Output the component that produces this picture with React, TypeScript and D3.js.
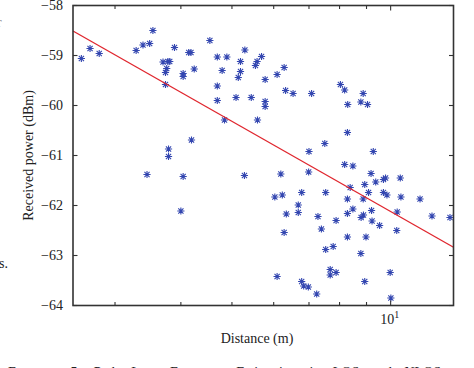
import React, { useEffect, useRef } from 'react';
import * as d3 from 'd3';

// distance (m)
const distance = [
  2.59, 2.69, 2.80, 3.29, 3.39, 3.49, 3.54, 3.70, 3.74, 3.76, 3.78, 3.81, 3.89, 4.04, 4.04,
  4.14, 4.18, 4.24, 3.74, 4.19, 3.79, 3.79, 3.45, 4.04, 4.00, 4.54, 4.69, 4.89, 5.29, 5.19,
  4.79, 5.19, 5.14, 5.58, 5.54, 5.69, 4.69, 4.69, 5.09, 5.44, 5.78, 5.78, 5.78, 6.09, 6.28,
  6.32, 6.53, 7.08, 4.84, 5.59, 7.00, 7.50, 8.03, 8.18, 8.29, 8.87, 8.78, 9.04, 8.28, 9.27,
  8.18, 8.48, 5.28, 6.19, 6.99, 9.18, 9.37, 9.69, 9.78, 10.43, 8.38, 8.93, 7.53, 9.08, 9.69,
  9.84, 8.28, 8.87, 10.46, 11.37, 9.20, 8.48, 8.28, 8.88, 8.79, 10.29, 11.98, 12.96, 7.88, 9.22,
  9.53, 10.27, 7.39, 8.28, 8.98, 7.78, 7.53, 8.78, 7.68, 7.68, 7.88, 9.98, 8.93, 10.01, 6.03,
  6.23, 6.78, 6.68, 6.68, 6.34, 7.28, 6.28, 6.09, 6.78, 6.84, 6.98, 7.24,
];

// received power (dBm)
const power = [
  -59.06, -58.86, -58.96, -58.90, -58.79, -58.76, -58.50, -59.13, -59.34, -59.26, -59.12, -59.12, -58.84, -59.36, -59.42,
  -58.94, -58.94, -59.27, -59.58, -60.69, -60.87, -61.02, -61.38, -61.42, -62.11, -58.70, -59.03, -59.03, -58.89, -59.12,
  -59.30, -59.32, -59.44, -59.12, -59.20, -59.02, -59.61, -59.90, -59.84, -59.84, -59.48, -59.92, -60.02, -59.38, -59.24,
  -59.70, -59.76, -59.76, -60.29, -60.29, -60.92, -60.76, -59.58, -59.69, -59.98, -59.76, -59.93, -59.98, -60.54, -60.92,
  -61.18, -61.21, -61.40, -61.37, -61.33, -61.36, -61.53, -61.48, -61.45, -61.45, -61.64, -61.58, -61.74, -61.74, -61.74,
  -61.79, -61.87, -61.87, -61.83, -61.87, -62.10, -62.07, -62.16, -62.19, -62.24, -62.13, -62.21, -62.24, -62.30, -62.31,
  -62.40, -62.50, -62.47, -62.63, -62.63, -62.82, -62.88, -62.96, -63.28, -63.39, -63.34, -63.34, -63.52, -63.85, -61.83,
  -61.79, -61.74, -61.99, -62.14, -62.17, -62.22, -62.54, -63.42, -63.52, -63.61, -63.63, -63.77,
];

// least squares fit P = p0 + slope * log10(d)
const fitIntercept = -56.13;
const fitSlope = -5.99;

const xDomain = [2.497, 13.16];
const xTicks = [3, 4, 5, 6, 7, 8, 9, 10];
const yTicks = [-64, -63, -62, -61, -60, -59, -58];

export default function App() {
  const ref = useRef<SVGSVGElement | null>(null);

  useEffect(() => {
    const svg = d3.select(ref.current);
    svg.selectAll('*').remove();

    const left = 73, right = 453.5, top = 5.5, bottom = 305.5;
    const serif = '"Liberation Serif", "DejaVu Serif", serif';

    const x = d3.scaleLog().domain(xDomain).range([left, right]);
    const y = d3.scaleLinear().domain([-64, -58]).range([bottom, top]);

    // stray text from the page around the figure
    svg.append('text').attr('x', -3).attr('y', 27).attr('font-family', serif)
      .attr('font-size', 14).attr('fill', '#999').text('r');
    svg.append('text').attr('x', -1).attr('y', 268).attr('font-family', serif)
      .attr('font-size', 14).attr('fill', '#222').text('s.');
    const cap = svg.append('text').attr('x', 8).attr('y', 377).attr('font-family', serif)
      .attr('font-size', 14).attr('fill', '#222').attr('word-spacing', 9);
    cap.append('tspan').text('F');
    cap.append('tspan').attr('font-size', 10.5).attr('letter-spacing', 2).text('IGURE');
    cap.append('tspan').text(' 5: Path Loss Exponent Estimation in LOS and NLOS.');

    // markers
    const pts = distance.map((d, i) => ({ d, p: power[i] }));
    const arm = 3.6;
    const g = svg.append('g').attr('stroke', '#3346b0').attr('stroke-width', 1.1);
    pts.forEach(pt => {
      const cx = x(pt.d), cy = y(pt.p);
      const k = arm * 0.72;
      g.append('path')
        .attr('d', `M${cx - arm},${cy}H${cx + arm}M${cx},${cy - arm}V${cy + arm}` +
          `M${cx - k},${cy - k}L${cx + k},${cy + k}M${cx - k},${cy + k}L${cx + k},${cy - k}`);
    });

    // fit line
    const line = d3.line<number>()
      .x(d => x(d))
      .y(d => y(fitIntercept + fitSlope * Math.log10(d)));
    svg.append('path').datum(xDomain).attr('d', line)
      .attr('fill', 'none').attr('stroke', '#e0262e').attr('stroke-width', 1.3);

    // box
    svg.append('rect').attr('x', left).attr('y', top)
      .attr('width', right - left).attr('height', bottom - top)
      .attr('fill', 'none').attr('stroke', '#333').attr('stroke-width', 1.6);

    const ticks = svg.append('g').attr('stroke', '#333').attr('stroke-width', 1.1);
    xTicks.forEach(t => {
      const len = t === 10 ? 5 : 3.5;
      ticks.append('line').attr('x1', x(t)).attr('x2', x(t)).attr('y1', bottom).attr('y2', bottom - len);
      ticks.append('line').attr('x1', x(t)).attr('x2', x(t)).attr('y1', top).attr('y2', top + len);
    });
    yTicks.forEach(t => {
      ticks.append('line').attr('x1', left).attr('x2', left + 4.5).attr('y1', y(t)).attr('y2', y(t));
      ticks.append('line').attr('x1', right).attr('x2', right - 4.5).attr('y1', y(t)).attr('y2', y(t));
    });

    // y tick labels
    yTicks.forEach(t => {
      svg.append('text').attr('x', 63).attr('y', y(t)).attr('dy', '0.35em')
        .attr('text-anchor', 'end').attr('font-family', serif).attr('font-size', 14)
        .attr('fill', '#222').text(d3.format('')(t).replace('-', '\u2212'));
    });

    // x tick label 10^1
    const lab = svg.append('text').attr('x', x(10) - 1).attr('y', 324)
      .attr('text-anchor', 'middle').attr('font-family', serif).attr('font-size', 14).attr('fill', '#222');
    lab.append('tspan').text('10');
    lab.append('tspan').attr('dy', -6).attr('font-size', 10).text('1');

    svg.append('text').attr('x', 257).attr('y', 343).attr('text-anchor', 'middle')
      .attr('font-family', serif).attr('font-size', 14).attr('fill', '#222').text('Distance (m)');

    svg.append('text').attr('transform', `translate(33,${(top + bottom) / 2}) rotate(-90)`)
      .attr('text-anchor', 'middle').attr('font-family', serif).attr('font-size', 14)
      .attr('fill', '#222').text('Received power (dBm)');
  }, []);

  return (
    <svg ref={ref} width={474} height={368}
      style={{ position: 'absolute', left: 0, top: 0, background: '#fff' }} />
  );
}
